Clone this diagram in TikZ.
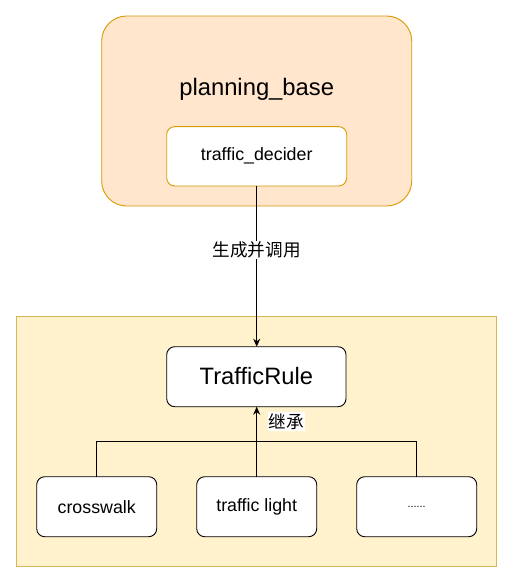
\documentclass[tikz,border=0pt]{standalone}
\usepackage{fontspec}
\setmainfont{Liberation Sans}
\newfontfamily\cjk{Noto Sans CJK SC}
\usetikzlibrary{arrows.meta}
\definecolor{outerfill}{HTML}{FFE6CC}
\definecolor{outerdraw}{HTML}{D79B00}
\definecolor{contfill}{HTML}{FFF2CC}
\definecolor{contdraw}{HTML}{D6B656}
\tikzset{
  box/.style={draw=black, fill=white, rounded corners=8pt, line width=0.9pt, inner sep=0pt, outer sep=0pt, font=\fontsize{17.8}{20}\selectfont},
  conn/.style={line width=0.9pt, draw=black},
  arr/.style={conn, -{Stealth[length=8pt,width=7pt]}},
  lbl/.style={fill=white, inner sep=1pt, font=\cjk\fontsize{17.6}{20}\selectfont}
}
\begin{document}
\begin{tikzpicture}[x=1pt,y=-1pt]
\useasboundingbox (0,0) rectangle (513,583);
% top container
\node[draw=outerdraw, fill=outerfill, rounded corners=25pt, line width=0.9pt, minimum width=310pt, minimum height=190pt, inner sep=0pt, outer sep=0pt] (base) at (256.7,111) {};
\node[font=\fontsize{23.8}{26}\selectfont] (basetitle) at (256.7,89) {planning\_base};
\node[box, draw=outerdraw, minimum width=180pt, minimum height=59.3pt] (decider) at (256.7,156.3) {traffic\_decider};
% bottom container
\node[draw=contdraw, fill=contfill, line width=0.9pt, minimum width=480.7pt, minimum height=250.7pt, inner sep=0pt, outer sep=0pt] (cont) at (256.35,441.35) {};
\node[box, minimum width=179.3pt, minimum height=60pt, font=\fontsize{23.7}{26}\selectfont] (rule) at (256.35,376.7) {\raisebox{2.5pt}{TrafficRule}};
\node[box, minimum width=120pt, minimum height=60pt] (cross) at (96.7,506.7) {crosswalk};
\node[box, minimum width=120pt, minimum height=60pt] (light) at (256.7,506.7) {traffic light};
\node[box, minimum width=120pt, minimum height=60pt, font=\fontsize{10.8}{12}\selectfont] (more) at (416.7,506.7) {\raisebox{-2.5pt}{......}};
% connectors
\draw[arr] (decider.south) -- (decider.south |- rule.north) node[lbl, pos=0.4] (lbla) {生成并调用};
\coordinate (junction) at (256.7,441.7);
\draw[conn] (cross.north) |- (junction) -| (more.north);
\draw[arr] (light.north) -- (light.north |- rule.south);
\node[lbl] (lblb) at (286.3,421.5) {继承};
\end{tikzpicture}
\end{document}
